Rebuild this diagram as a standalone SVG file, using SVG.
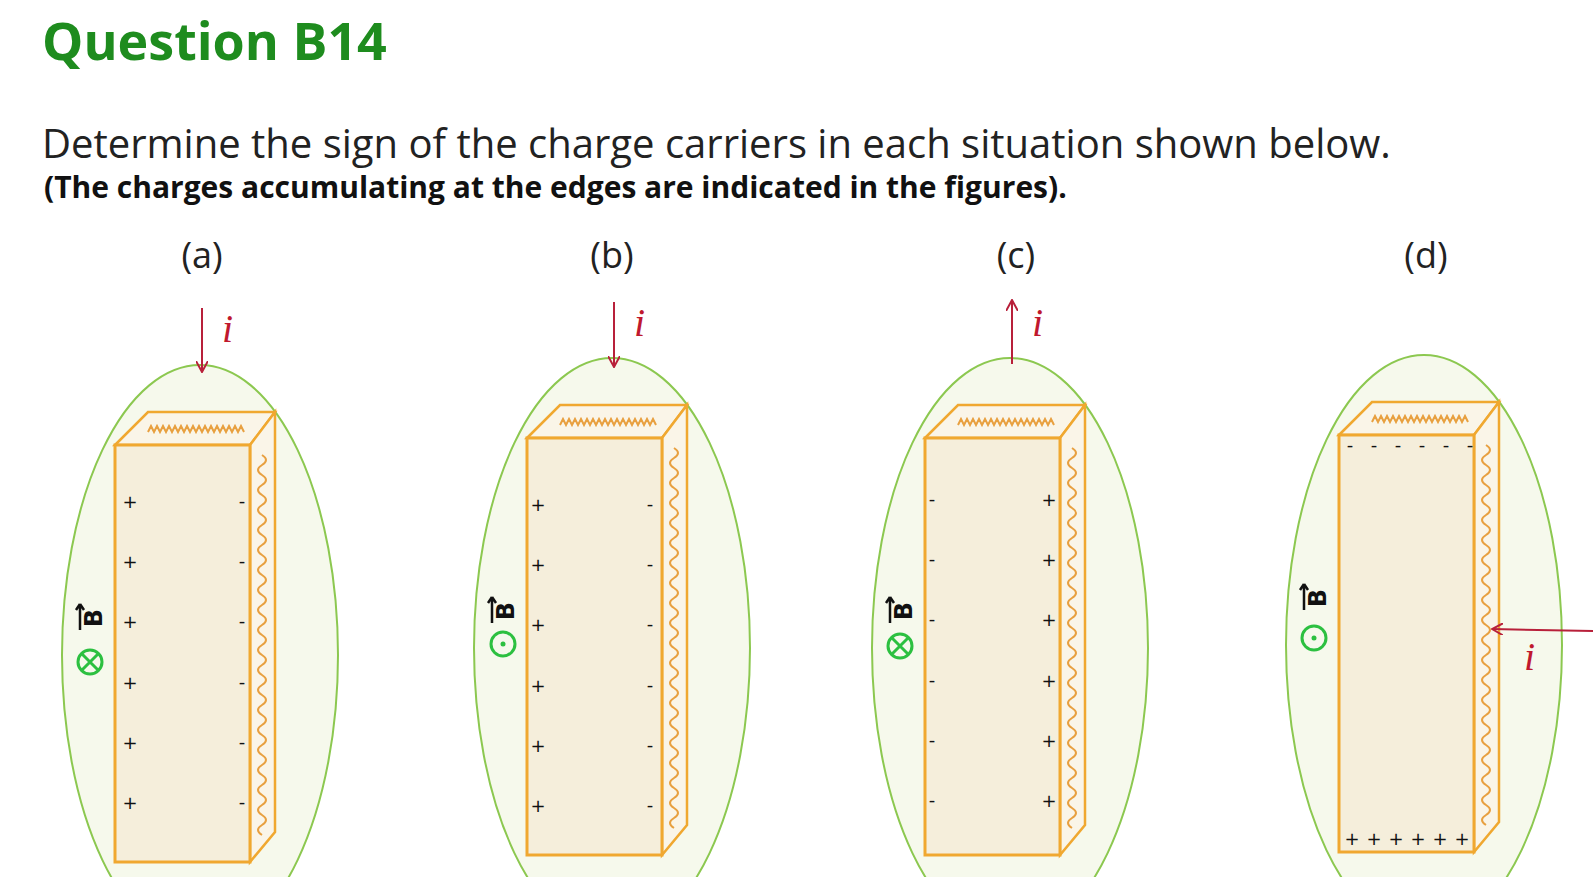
<svg xmlns="http://www.w3.org/2000/svg" width="1593" height="877" viewBox="0 0 1593 877">
<style>
.ell{fill:#f6f9ec;stroke:#8cc850;stroke-width:2}
.front{fill:#f5eedb;stroke:#f0a830;stroke-width:3}
.face{fill:#faf5e8;stroke:#f0a830;stroke-width:2.5}
.wav{fill:none;stroke:#e8a040;stroke-width:2}
.ch{font-family:"DejaVu Sans",sans-serif;font-size:18px;fill:#111;text-anchor:middle}
.cur{stroke:#b8203a;stroke-width:2;fill:none}
.i{font-family:"Liberation Serif",serif;font-style:italic;font-size:40px;fill:#c0182e}
.lab{font-family:"Open Sans",sans-serif;font-size:36px;fill:#222;text-anchor:middle}
.bl{font-family:"DejaVu Sans",sans-serif;font-weight:bold;font-size:24px;fill:#111}
.cir{fill:none;stroke:#2cc040;stroke-width:3}
</style>
<defs>
<g id="box">
<ellipse class="ell" cx="200" cy="655" rx="138" ry="290"/>
<path class="face" d="M115,445 L148,412 L275,412 L250,445 Z"/>
<path class="face" d="M250,445 L275,412 L275,832 L250,862 Z"/>
<rect class="front" x="115" y="445" width="135" height="417"/>
<path class="wav" d="M148,432 l3,-6 l3,6 l3,-6 l3,6 l3,-6 l3,6 l3,-6 l3,6 l3,-6 l3,6 l3,-6 l3,6 l3,-6 l3,6 l3,-6 l3,6 l3,-6 l3,6 l3,-6 l3,6 l3,-6 l3,6 l3,-6 l3,6 l3,-6 l3,6 l3,-6 l3,6 l3,-6 l3,6 l3,-6 l3,6"/>
<path class="wav" d="M262,455 q8,5 0,10 q-8,5 0,10 q8,5 0,10 q-8,5 0,10 q8,5 0,10 q-8,5 0,10 q8,5 0,10 q-8,5 0,10 q8,5 0,10 q-8,5 0,10 q8,5 0,10 q-8,5 0,10 q8,5 0,10 q-8,5 0,10 q8,5 0,10 q-8,5 0,10 q8,5 0,10 q-8,5 0,10 q8,5 0,10 q-8,5 0,10 q8,5 0,10 q-8,5 0,10 q8,5 0,10 q-8,5 0,10 q8,5 0,10 q-8,5 0,10 q8,5 0,10 q-8,5 0,10 q8,5 0,10 q-8,5 0,10 q8,5 0,10 q-8,5 0,10 q8,5 0,10 q-8,5 0,10 q8,5 0,10 q-8,5 0,10 q8,5 0,10 q-8,5 0,10"/>
</g>
<g id="Bl"><text class="bl" transform="translate(102,618) rotate(-90)" text-anchor="middle">B</text><path d="M80,630 L80,604 M80,604 l-4,6 M80,604 l4,6" stroke="#111" stroke-width="2.5" fill="none"/></g>
<g id="otimes"><circle class="cir" cx="90" cy="662" r="12"/><path d="M82,654 L98,670 M98,654 L82,670" stroke="#2cc040" stroke-width="3"/></g>
<g id="odot"><circle class="cir" cx="90" cy="662" r="12"/><circle cx="90" cy="662" r="2.5" fill="#2cc040"/></g>
<marker id="ah" viewBox="0 0 12 12" refX="11" refY="6" markerWidth="12" markerHeight="12" markerUnits="userSpaceOnUse" orient="auto"><path d="M0,0 L11,6 L0,12" fill="none" stroke="#b8203a" stroke-width="2"/></marker>
</defs>
<text x="42" y="60" font-family="Open Sans,sans-serif" font-weight="bold" font-size="52" fill="#1e8c1e">Question B14</text>
<text x="42" y="158" font-family="Open Sans,sans-serif" font-size="40" fill="#222">Determine the sign of the charge carriers in each situation shown below.</text>
<text x="44" y="198" font-family="Open Sans,sans-serif" font-weight="bold" font-size="30" fill="#111">(The charges accumulating at the edges are indicated in the figures).</text>
<g id="panel-a">
<text class="lab" x="202" y="268">(a)</text>
<use href="#box"/><use href="#Bl"/><use href="#otimes"/>
<g class="ch"><text x="130" y="508">+</text><text x="130" y="568">+</text><text x="130" y="628">+</text><text x="130" y="689">+</text><text x="130" y="749">+</text><text x="130" y="809">+</text>
<text x="242" y="507">-</text><text x="242" y="567">-</text><text x="242" y="627">-</text><text x="242" y="688">-</text><text x="242" y="748">-</text><text x="242" y="808">-</text></g>
</g>
<g id="panel-b" transform="translate(412,-7)">
<text class="lab" x="200" y="275">(b)</text>
<use href="#box"/><use href="#Bl"/><use href="#odot" transform="translate(1,-11)"/>
<g class="ch"><text x="126" y="518">+</text><text x="126" y="578">+</text><text x="126" y="638">+</text><text x="126" y="699">+</text><text x="126" y="759">+</text><text x="126" y="819">+</text>
<text x="238" y="517">-</text><text x="238" y="577">-</text><text x="238" y="637">-</text><text x="238" y="698">-</text><text x="238" y="758">-</text><text x="238" y="818">-</text></g>
</g>
<g id="panel-c" transform="translate(810,-7)">
<text class="lab" x="206" y="275">(c)</text>
<use href="#box"/><use href="#Bl"/><use href="#otimes" transform="translate(0,-9)"/>
<g class="ch"><text x="122" y="512">-</text><text x="122" y="572">-</text><text x="122" y="632">-</text><text x="122" y="693">-</text><text x="122" y="753">-</text><text x="122" y="813">-</text>
<text x="239" y="513">+</text><text x="239" y="573">+</text><text x="239" y="633">+</text><text x="239" y="694">+</text><text x="239" y="754">+</text><text x="239" y="814">+</text></g>
</g>
<g id="panel-d" transform="translate(1224,-10)">
<text class="lab" x="202" y="278">(d)</text>
<use href="#box"/><use href="#Bl" transform="translate(0,-10)"/><use href="#odot" transform="translate(0,-14)"/>
<g class="ch"><text x="126" y="461">-</text><text x="150" y="461">-</text><text x="174" y="461">-</text><text x="198" y="461">-</text><text x="222" y="461">-</text><text x="246" y="461">-</text>
<text x="128" y="855">+</text><text x="150" y="855">+</text><text x="172" y="855">+</text><text x="194" y="855">+</text><text x="216" y="855">+</text><text x="238" y="855">+</text></g>
</g>
<g id="connectors">
<line class="cur" x1="202" y1="308" x2="202" y2="372" marker-end="url(#ah)"/>
<line class="cur" x1="614" y1="302" x2="614" y2="367" marker-end="url(#ah)"/>
<line class="cur" x1="1012" y1="364" x2="1012" y2="300" marker-end="url(#ah)"/>
<line class="cur" x1="1593" y1="631" x2="1492" y2="629" marker-end="url(#ah)"/>
</g>
<text class="i" x="222" y="342">i</text>
<text class="i" x="634" y="336">i</text>
<text class="i" x="1032" y="336">i</text>
<text class="i" x="1524" y="670">i</text>
</svg>
